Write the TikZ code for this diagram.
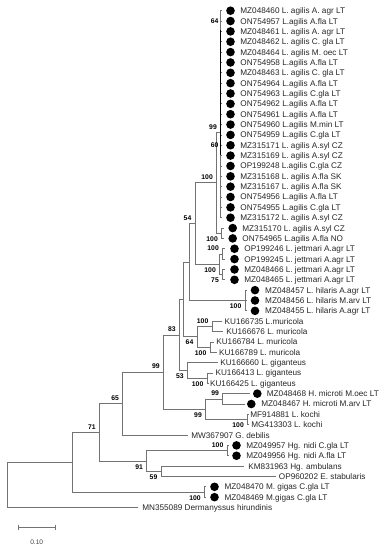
\documentclass[tikz,border=0pt]{standalone}
\usepackage{fontspec}
\setmainfont{Liberation Sans}
\newcommand\leaffont{\fontsize{8.2}{9}\selectfont}
\newcommand\bsfont{\fontsize{6.8}{8}\selectfont\bfseries}
\begin{document}
\begin{tikzpicture}[x=1pt,y=-1pt,
  br/.style={draw=black!55,line width=0.8pt},
  leaf/.style={anchor=base west,inner sep=0pt,font=\leaffont,text=black!85},
  bsl/.style={anchor=base east,inner sep=0pt,font=\bsfont},
  tipdot/.style={circle,fill=black,inner sep=0pt,minimum size=8.6pt}]
\useasboundingbox (0,0) rectangle (388,550);
% internal nodes
\coordinate (R) at (7.3,484.9);
\coordinate (A) at (72.3,462.1);
\coordinate (B) at (99.3,432.2);
\coordinate (C) at (146.7,461);
\coordinate (D) at (161,471.4);
\coordinate (HG) at (227,450.6);
\coordinate (GI) at (204.3,492.1);
\coordinate (E) at (122.7,403.5);
\coordinate (F) at (163.3,372);
\coordinate (G) at (205.5,409.2);
\coordinate (H) at (222.7,398.9);
\coordinate (KO) at (247.5,419.5);
\coordinate (I) at (179.3,334.9);
\coordinate (J) at (187.3,370.3);
\coordinate (GG) at (207,378.1);
\coordinate (N) at (183.5,299.4);
\coordinate (K) at (197,336.7);
\coordinate (MA) at (212,326.4);
\coordinate (MB) at (210,347.1);
\coordinate (M) at (189,262);
\coordinate (HI) at (245,300.5);
\coordinate (L) at (195,223.6);
\coordinate (JE) at (219.5,264.5);
\coordinate (J1) at (222.5,254.1);
\coordinate (J2) at (222.5,274.8);
\coordinate (P) at (216.5,182.7);
\coordinate (C2) at (221.5,233.3);
\coordinate (Q) at (220.5,132.5);
% internal edges
\foreach \pa/\ch in {R/A,A/B,A/GI,B/E,B/C,C/HG,C/D,E/F,F/I,F/G,G/H,G/KO,I/N,I/J,J/GG,N/M,N/K,K/MA,K/MB,M/L,M/HI,L/P,L/JE,JE/J1,JE/J2,P/Q,P/C2}
  {\draw[br] (\pa) |- (\ch);}
% leaves
\foreach \i/\pa/\tip/\dx/\tx/\nm in {
1/Q/222/230.5/240.2/{MZ048460 L. agilis A. agr LT},
2/Q/222/230.5/240.2/{ON754957 L.agilis A.fla LT},
3/Q/222/230.5/240.2/{MZ048461 L. agilis A. agr LT},
4/Q/222/230.5/240.2/{MZ048462 L. agilis C. gla LT},
5/Q/222/230.5/240.2/{MZ048464 L. agilis M. oec LT},
6/Q/222/230.5/240.2/{ON754958 L.agilis A.fla LT},
7/Q/222/230.5/240.2/{MZ048463 L. agilis C. gla LT},
8/Q/222/230.5/240.2/{ON754964 L.agilis A.fla LT},
9/Q/222/230.5/240.2/{ON754963 L.agilis C.gla LT},
10/Q/222/230.5/240.2/{ON754962 L.agilis A.fla LT},
11/Q/222/230.5/240.2/{ON754961 L.agilis A.fla LT},
12/Q/222/230.5/240.2/{ON754960 L.agilis M.min LT},
13/Q/222/230.5/240.2/{ON754959 L.agilis C.gla LT},
14/Q/222/230.5/240.2/{MZ315171 L. agilis A.syl CZ},
15/Q/222/230.5/240.2/{MZ315169 L. agilis A.syl CZ},
16/Q/222/230.5/240.2/{OP199248 L.agilis C.gla CZ},
17/Q/222/230.5/240.2/{MZ315168 L. agilis A.fla SK},
18/Q/222/230.5/240.2/{MZ315167 L. agilis A.fla SK},
19/Q/222/230.5/240.2/{ON754956 L.agilis A.fla LT},
20/Q/222/230.5/240.2/{ON754955 L.agilis C.gla LT},
21/Q/222/230.5/240.2/{MZ315172 L. agilis A.syl CZ},
22/C2/223.5/232.7/242.2/{MZ315170 L. agilis A.syl CZ},
23/C2/223.5/232.7/242.2/{ON754965 L.agilis A.fla NO},
24/J1/224.5/234.5/244.2/{OP199246 L. jettmari A.agr LT},
25/J1/224.5/234.5/244.2/{OP199245 L. jettmari A.agr LT},
26/J2/224.5/234.5/244.2/{MZ048466 L. jettmari A.agr LT},
27/J2/224.5/234.5/244.2/{MZ048465 L. jettmari A.agr LT},
28/HI/247/255/265/{MZ048457 L. hilaris A.agr LT},
29/HI/247/255/265/{MZ048456 L. hilaris M.arv LT},
30/HI/247/255/265/{MZ048455 L. hilaris A.agr LT},
31/MA/221.7/0/224.5/{KU166735 L.muricola},
32/MA/223.3/0/226.1/{KU166676 L. muricola},
33/MB/214/0/216.1/{KU166784 L. muricola},
34/MB/217.3/0/218.9/{KU166789 L. muricola},
35/J/218.3/0/220.1/{KU166660 L. giganteus},
36/GG/213/0/215.4/{KU166413 L. giganteus},
37/GG/208.5/0/209.9/{KU166425 L. giganteus},
38/H/250/257.3/266.7/{MZ048468 H. microti M.oec LT},
39/H/245/251.3/261.1/{MZ048467 H. microti M.arv LT},
40/KO/248.5/0/250.1/{MF914881 L. kochi},
41/KO/249/0/251.1/{MG413303 L. kochi},
42/E/188.3/0/191.1/{MW367907 G. debilis},
43/HG/228.5/236.5/246.1/{MZ049957 Hg. nidi C.gla LT},
44/HG/228.5/236.5/246.1/{MZ049956 Hg. nidi A.fla LT},
45/D/244.3/0/248.2/{KM831963 Hg. ambulans},
46/D/276/0/278.7/{OP960202 E. stabularis},
47/GI/206/214.5/224.4/{MZ048470 M. gigas C.gla LT},
48/GI/206/214.5/224.4/{MZ048469 M.gigas C.gla LT},
49/R/138/0/142.1/{MN355089 Dermanyssus hirundinis}}
{
  \pgfmathsetmacro\yy{10.7+(\i-1)*10.35}
  \coordinate (t\i) at (\tip,\yy);
  \draw[br] (\pa) |- (t\i);
  \ifdim\dx pt>0pt \node[tipdot] (d\i) at (\dx,\yy) {};\fi
  \path (\tx,\yy) ++(0,2.95) node[leaf] (n\i) {\nm};
}
% darker overlap on the agilis comb
\coordinate (qa) at (220.5,30);
\coordinate (qb) at (220.5,155);
\draw[black,line width=0.9pt] (qa) -- (qb);
% bootstrap values above (upper child)
\foreach \nd/\v in {B/71,E/65,F/99,I/83,H/99,HG/100,MA/100,L/54,J1/100,P/100,Q/99}
  {\path (\nd) ++(-3.5,-3.15) node[bsl] (b\nd) {\v};}
% bootstrap values below (lower child)
\foreach \nd/\v in {C/91,D/59,GI/100,G/99,KO/100,J/53,GG/100,K/64,MB/100,HI/100,JE/100,J2/75,C2/100}
  {\path (\nd) ++(-3.5,8.05) node[bsl] (b\nd) {\v};}
% extra values inside the agilis group
\coordinate (q64) at (218.7,23.6);
\coordinate (q60) at (218.7,147.6);
\node[bsl] (b64) at (q64) {64};
\node[bsl] (b60) at (q60) {60};
% scale bar
\coordinate (sb1) at (18.3,527);
\coordinate (sb2) at (55,527);
\draw[br] (sb1) -- (sb2);
\draw[br] (sb1) ++(0,-2.5) -- ++(0,5);
\draw[br] (sb2) ++(0,-2.5) -- ++(0,5);
\node[inner sep=0pt,font=\fontsize{6.6}{8}\selectfont,text=black!75] (sbl) at (36.7,542) {0.10};
\end{tikzpicture}
\end{document}
